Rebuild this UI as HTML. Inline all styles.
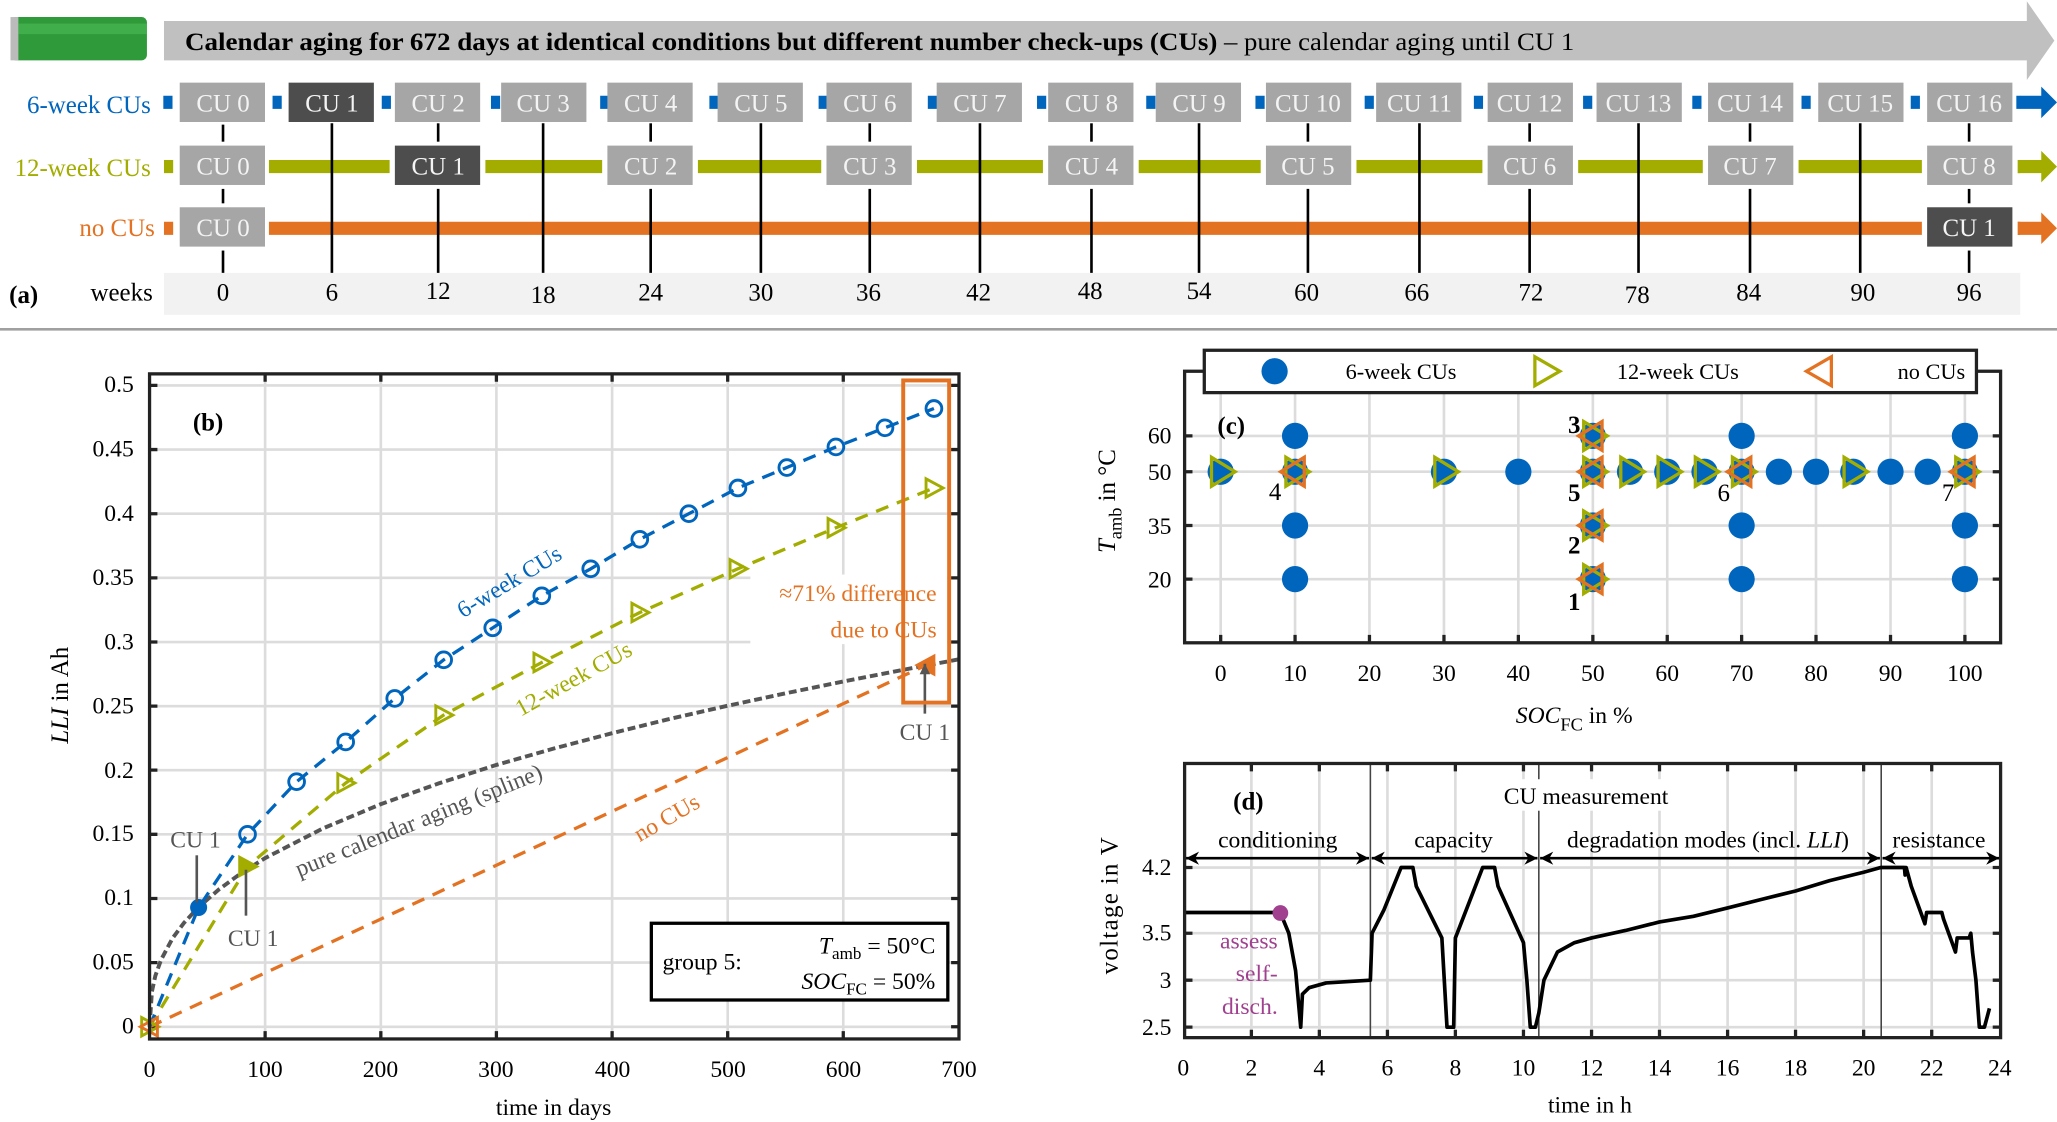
<!DOCTYPE html>
<html><head><meta charset="utf-8"><style>
html,body{margin:0;padding:0;background:#fff}
svg{display:block}
text{font-family:"Liberation Serif","DejaVu Serif",serif}
</style></head><body>
<svg width="2057" height="1122" viewBox="0 0 1568 855.3" preserveAspectRatio="none" xmlns="http://www.w3.org/2000/svg">
<defs>
<marker id="ah" viewBox="0 0 10 10" refX="10" refY="5" markerWidth="12" markerHeight="10" markerUnits="userSpaceOnUse" orient="auto-start-reverse"><path d="M0,0 L10,5 L0,10 L3,5 z" fill="#000"/></marker>
<marker id="ag" viewBox="0 0 10 10" refX="10" refY="5" markerWidth="8" markerHeight="8" markerUnits="userSpaceOnUse" orient="auto"><path d="M0,0 L10,5 L0,10 z" fill="#555"/></marker>
</defs>
<!-- ===== (a) ===== -->
<rect x="8" y="13" width="104" height="33" rx="4" fill="#2f9a3a"/>
<rect x="8" y="13" width="6" height="33" fill="#bbb"/>
<rect x="14" y="18" width="98" height="8" fill="#48b654" opacity="0.7"/>
<polygon points="125,16 1545,16 1545,1 1566,31 1545,61 1545,46 125,46" fill="#c0c0c0"/>
<text x="141" y="38" font-size="19" font-weight="bold" textLength="787" lengthAdjust="spacingAndGlyphs">Calendar aging for 672 days at identical conditions but different number check-ups (CUs)</text>
<text x="933" y="38" font-size="19" textLength="267" lengthAdjust="spacingAndGlyphs">– pure calendar aging until CU 1</text>
<rect x="125" y="208" width="1415" height="32" fill="#f2f2f2"/>
<line x1="0" y1="251" x2="1568" y2="251" stroke="#a0a0a0" stroke-width="2"/>
<!-- blue row -->
<line x1="124.5" y1="78" x2="1540" y2="78" stroke="#0065bd" stroke-width="10" stroke-dasharray="7,76.25"/>
<polygon points="1537,73 1556,73 1556,66 1568,78 1556,90 1556,83 1537,83" fill="#0065bd"/>
<!-- green row -->
<line x1="125" y1="127" x2="1540" y2="127" stroke="#a2ad00" stroke-width="10"/>
<polygon points="1537,122 1556,122 1556,115 1568,127 1556,139 1556,132 1537,132" fill="#a2ad00"/>
<g fill="#fff">
<rect x="132" y="110" width="73" height="34"/>
<rect x="297" y="110" width="73" height="34"/><rect x="459" y="110" width="73" height="34"/>
<rect x="626" y="110" width="73" height="34"/><rect x="795" y="110" width="73" height="34"/>
<rect x="961" y="110" width="73" height="34"/><rect x="1130" y="110" width="73" height="34"/>
<rect x="1298" y="110" width="73" height="34"/><rect x="1465" y="110" width="73" height="34"/>
</g>
<!-- orange row -->
<line x1="125" y1="174" x2="1540" y2="174" stroke="#e37222" stroke-width="10"/>
<polygon points="1537,169 1556,169 1556,162 1568,174 1556,186 1556,179 1537,179" fill="#e37222"/>
<rect x="132" y="157" width="73" height="34" fill="#fff"/>
<rect x="1465" y="157" width="73" height="34" fill="#fff"/>
<!-- vertical lines -->
<g stroke="#000" stroke-width="2">
<line x1="170" y1="95" x2="170" y2="108"/><line x1="170" y1="144" x2="170" y2="155"/><line x1="170" y1="191" x2="170" y2="208"/>
<line x1="253" y1="94" x2="253" y2="208"/>
<line x1="334" y1="94" x2="334" y2="108"/><line x1="334" y1="144" x2="334" y2="208"/>
<line x1="414" y1="94" x2="414" y2="208"/>
<line x1="496" y1="94" x2="496" y2="108"/><line x1="496" y1="144" x2="496" y2="208"/>
<line x1="580" y1="94" x2="580" y2="208"/>
<line x1="663" y1="94" x2="663" y2="108"/><line x1="663" y1="144" x2="663" y2="208"/>
<line x1="747" y1="94" x2="747" y2="208"/>
<line x1="832" y1="94" x2="832" y2="108"/><line x1="832" y1="144" x2="832" y2="208"/>
<line x1="914" y1="94" x2="914" y2="208"/>
<line x1="997" y1="94" x2="997" y2="108"/><line x1="997" y1="144" x2="997" y2="208"/>
<line x1="1082" y1="94" x2="1082" y2="208"/>
<line x1="1166" y1="94" x2="1166" y2="108"/><line x1="1166" y1="144" x2="1166" y2="208"/>
<line x1="1249" y1="94" x2="1249" y2="208"/>
<line x1="1334" y1="94" x2="1334" y2="108"/><line x1="1334" y1="144" x2="1334" y2="208"/>
<line x1="1418" y1="94" x2="1418" y2="208"/>
<line x1="1501" y1="94" x2="1501" y2="108"/><line x1="1501" y1="144" x2="1501" y2="155"/><line x1="1501" y1="191" x2="1501" y2="208"/>
</g>
<!-- boxes -->
<g font-size="19" fill="#f4f4f4" text-anchor="middle">
<rect x="137" y="63" width="65" height="30" fill="#a6a6a6"/><text x="170" y="85">CU 0</text>
<rect x="220" y="63" width="65" height="30" fill="#4d4d4d"/><text x="253" y="85">CU 1</text>
<rect x="301" y="63" width="65" height="30" fill="#a6a6a6"/><text x="334" y="85">CU 2</text>
<rect x="382" y="63" width="65" height="30" fill="#a6a6a6"/><text x="414" y="85">CU 3</text>
<rect x="463" y="63" width="65" height="30" fill="#a6a6a6"/><text x="496" y="85">CU 4</text>
<rect x="547" y="63" width="65" height="30" fill="#a6a6a6"/><text x="580" y="85">CU 5</text>
<rect x="630" y="63" width="65" height="30" fill="#a6a6a6"/><text x="663" y="85">CU 6</text>
<rect x="714" y="63" width="65" height="30" fill="#a6a6a6"/><text x="747" y="85">CU 7</text>
<rect x="799" y="63" width="65" height="30" fill="#a6a6a6"/><text x="832" y="85">CU 8</text>
<rect x="881" y="63" width="65" height="30" fill="#a6a6a6"/><text x="914" y="85">CU 9</text>
<rect x="965" y="63" width="65" height="30" fill="#a6a6a6"/><text x="997" y="85">CU 10</text>
<rect x="1049" y="63" width="65" height="30" fill="#a6a6a6"/><text x="1082" y="85">CU 11</text>
<rect x="1134" y="63" width="65" height="30" fill="#a6a6a6"/><text x="1166" y="85">CU 12</text>
<rect x="1217" y="63" width="65" height="30" fill="#a6a6a6"/><text x="1249" y="85">CU 13</text>
<rect x="1302" y="63" width="65" height="30" fill="#a6a6a6"/><text x="1334" y="85">CU 14</text>
<rect x="1386" y="63" width="65" height="30" fill="#a6a6a6"/><text x="1418" y="85">CU 15</text>
<rect x="1469" y="63" width="65" height="30" fill="#a6a6a6"/><text x="1501" y="85">CU 16</text>
<rect x="137" y="111" width="65" height="30" fill="#a6a6a6"/><text x="170" y="133">CU 0</text>
<rect x="301" y="111" width="65" height="30" fill="#4d4d4d"/><text x="334" y="133">CU 1</text>
<rect x="463" y="111" width="65" height="30" fill="#a6a6a6"/><text x="496" y="133">CU 2</text>
<rect x="630" y="111" width="65" height="30" fill="#a6a6a6"/><text x="663" y="133">CU 3</text>
<rect x="799" y="111" width="65" height="30" fill="#a6a6a6"/><text x="832" y="133">CU 4</text>
<rect x="965" y="111" width="65" height="30" fill="#a6a6a6"/><text x="997" y="133">CU 5</text>
<rect x="1134" y="111" width="65" height="30" fill="#a6a6a6"/><text x="1166" y="133">CU 6</text>
<rect x="1302" y="111" width="65" height="30" fill="#a6a6a6"/><text x="1334" y="133">CU 7</text>
<rect x="1469" y="111" width="65" height="30" fill="#a6a6a6"/><text x="1501" y="133">CU 8</text>
<rect x="137" y="158" width="65" height="30" fill="#a6a6a6"/><text x="170" y="180">CU 0</text>
<rect x="1469" y="158" width="65" height="30" fill="#4d4d4d"/><text x="1501" y="180">CU 1</text>
</g>
<g font-size="19" text-anchor="end">
<text x="115" y="86" fill="#0065bd">6-week CUs</text>
<text x="115" y="134" fill="#a2ad00">12-week CUs</text>
<text x="118" y="180" fill="#e37222">no CUs</text>
</g>
<text x="7" y="231" font-size="19" font-weight="bold">(a)</text>
<text x="69" y="229" font-size="19">weeks</text>
<g font-size="19" text-anchor="middle">
<text x="170" y="229">0</text><text x="253" y="229">6</text><text x="334" y="228">12</text><text x="414" y="231">18</text>
<text x="496" y="229">24</text><text x="580" y="229">30</text><text x="662" y="229">36</text><text x="746" y="229">42</text>
<text x="831" y="228">48</text><text x="914" y="228">54</text><text x="996" y="229">60</text><text x="1080" y="229">66</text>
<text x="1167" y="229">72</text><text x="1248" y="231">78</text><text x="1333" y="229">84</text><text x="1420" y="229">90</text><text x="1501" y="229">96</text>
</g>
<!-- ===== (b) ===== -->
<g stroke="#dcdcdc" stroke-width="2">
<line x1="202.1" y1="285" x2="202.1" y2="792"/><line x1="290.3" y1="285" x2="290.3" y2="792"/><line x1="378.4" y1="285" x2="378.4" y2="792"/>
<line x1="466.6" y1="285" x2="466.6" y2="792"/><line x1="554.7" y1="285" x2="554.7" y2="792"/><line x1="642.8" y1="285" x2="642.8" y2="792"/>
<line x1="114" y1="733.8" x2="731" y2="733.8"/><line x1="114" y1="684.9" x2="731" y2="684.9"/><line x1="114" y1="636" x2="731" y2="636"/>
<line x1="114" y1="587.1" x2="731" y2="587.1"/><line x1="114" y1="538.3" x2="731" y2="538.3"/><line x1="114" y1="489.4" x2="731" y2="489.4"/>
<line x1="114" y1="440.5" x2="731" y2="440.5"/><line x1="114" y1="391.6" x2="731" y2="391.6"/><line x1="114" y1="342.7" x2="731" y2="342.7"/>
<line x1="114" y1="293.8" x2="731" y2="293.8"/><line x1="114" y1="782.7" x2="731" y2="782.7"/>
</g>
<g stroke="#222" stroke-width="2.5">
<path d="M202.1,285v6M290.3,285v6M378.4,285v6M466.6,285v6M554.7,285v6M642.8,285v6M202.1,792v-6M290.3,792v-6M378.4,792v-6M466.6,792v-6M554.7,792v-6M642.8,792v-6"/>
<path d="M114,782.7h6M114,733.8h6M114,684.9h6M114,636h6M114,587.1h6M114,538.3h6M114,489.4h6M114,440.5h6M114,391.6h6M114,342.7h6M114,293.8h6M731,782.7h-6M731,733.8h-6M731,684.9h-6M731,636h-6M731,587.1h-6M731,538.3h-6M731,489.4h-6M731,440.5h-6M731,391.6h-6M731,342.7h-6M731,293.8h-6"/>
</g>
<g font-size="18" text-anchor="end">
<text x="102" y="299">0.5</text><text x="102" y="348">0.45</text><text x="102" y="397">0.4</text><text x="102" y="446">0.35</text>
<text x="102" y="495">0.3</text><text x="102" y="544">0.25</text><text x="102" y="593">0.2</text><text x="102" y="641">0.15</text>
<text x="102" y="690">0.1</text><text x="102" y="739">0.05</text><text x="102" y="788">0</text>
</g>
<g font-size="18" text-anchor="middle">
<text x="114" y="821">0</text><text x="202" y="821">100</text><text x="290" y="821">200</text><text x="378" y="821">300</text>
<text x="467" y="821">400</text><text x="555" y="821">500</text><text x="643" y="821">600</text><text x="731" y="821">700</text>
<text x="422" y="850">time in days</text>
</g>
<text transform="translate(52,530) rotate(-90)" font-size="19" text-anchor="middle"><tspan font-style="italic">LLI</tspan> in Ah</text>
<text x="147" y="328" font-size="19" font-weight="bold">(b)</text>
<rect x="572" y="438" width="150" height="53" fill="#fff"/>
<polyline fill="none" stroke="#555" stroke-width="3" stroke-dasharray="6,3" points="114,782.7 115.8,755.8 118.4,743.9 122.8,731.6 131.6,715.1 140.4,703.3 151.4,691.5 166.9,678 184.5,665.1 202.1,654.1 246.2,631.5 290.3,613 334.4,597.2 378.4,583.1 422.5,570.5 466.6,558.9 510.6,548 554.7,538 598.8,528.5 642.8,519.5 686.9,510.9 731,502.6"/>
<line x1="114" y1="782.7" x2="706" y2="507" stroke="#e37222" stroke-width="2.5" stroke-dasharray="10,7"/>
<polyline fill="none" stroke="#a2ad00" stroke-width="2.5" stroke-dasharray="10,7" points="114,782.7 188.7,660.5 263.5,596.9 338.2,545.1 413,505 487.7,466.9 562.5,433.6 637.2,402.3 711.9,372"/>
<polyline fill="none" stroke="#0065bd" stroke-width="2.5" stroke-dasharray="10,7" points="114,782.7 151.4,691.8 188.7,636 226.1,595.9 263.5,565.6 300.9,532.4 338.2,503 375.6,478.6 413,454.2 450.3,433.6 487.7,411.1 525.1,391.6 562.5,372 599.8,356.4 637.2,340.7 674.6,326.1 711.9,311.4"/>
<g fill="none" stroke="#0065bd" stroke-width="2.2">
<circle cx="188.7" cy="636" r="6"/><circle cx="226.1" cy="595.9" r="6"/><circle cx="263.5" cy="565.6" r="6"/><circle cx="300.9" cy="532.4" r="6"/>
<circle cx="338.2" cy="503" r="6"/><circle cx="375.6" cy="478.6" r="6"/><circle cx="413" cy="454.2" r="6"/><circle cx="450.3" cy="433.6" r="6"/>
<circle cx="487.7" cy="411.1" r="6"/><circle cx="525.1" cy="391.6" r="6"/><circle cx="562.5" cy="372" r="6"/><circle cx="599.8" cy="356.4" r="6"/>
<circle cx="637.2" cy="340.7" r="6"/><circle cx="674.6" cy="326.1" r="6"/><circle cx="711.9" cy="311.4" r="6"/>
</g>
<circle cx="151.4" cy="691.8" r="6.5" fill="#0065bd"/>
<g fill="none" stroke="#a2ad00" stroke-width="2.2">
<path d="M182.7,653.5l13,7l-13,7z" fill="#a2ad00"/>
<path d="M257.5,589.9l13,7l-13,7z"/><path d="M332.2,538.1l13,7l-13,7z"/><path d="M407,498l13,7l-13,7z"/>
<path d="M481.7,459.9l13,7l-13,7z"/><path d="M556.5,426.6l13,7l-13,7z"/><path d="M631.2,395.3l13,7l-13,7z"/><path d="M705.9,365l13,7l-13,7z"/>
<path d="M108,775.7l13,7l-13,7z"/>
</g>
<path d="M712,500l-13,7l13,7z" fill="#e37222" stroke="#e37222" stroke-width="2"/>
<path d="M120,775.7l-13,7l13,7z" fill="none" stroke="#e37222" stroke-width="2.2"/>
<text transform="translate(388,443) rotate(-31)" font-size="18" fill="#0065bd" text-anchor="middle" dy="0.35em">6-week CUs</text>
<text transform="translate(437,517) rotate(-29)" font-size="18" fill="#a2ad00" text-anchor="middle" dy="0.35em">12-week CUs</text>
<text transform="translate(319,625) rotate(-22)" font-size="18" fill="#555" text-anchor="middle" dy="0.35em">pure calendar aging (spline)</text>
<text transform="translate(508,623) rotate(-30)" font-size="18" fill="#e37222" text-anchor="middle" dy="0.35em">no CUs</text>
<g font-size="18" fill="#555" text-anchor="middle">
<text x="149" y="646">CU 1</text><text x="193" y="721">CU 1</text><text x="705" y="564">CU 1</text>
</g>
<g stroke="#555" stroke-width="2">
<line x1="150" y1="652" x2="150" y2="688"/><line x1="187.5" y1="698" x2="187.5" y2="663"/>
<line x1="705" y1="544" x2="705" y2="506" marker-end="url(#ag)"/>
</g>
<rect x="688.5" y="290" width="35" height="245.6" fill="none" stroke="#e37222" stroke-width="3"/>
<g font-size="18" fill="#e37222" text-anchor="end">
<text x="714" y="458">≈71% difference</text><text x="714" y="486">due to CUs</text>
</g>
<rect x="496.5" y="703.8" width="226" height="58.5" fill="#fff" stroke="#000" stroke-width="2.5"/>
<text x="505" y="739" font-size="18">group 5:</text>
<text x="713" y="727" font-size="18" text-anchor="end"><tspan font-style="italic">T</tspan><tspan font-size="13" dy="4">amb</tspan><tspan dy="-4"> = 50°C</tspan></text>
<text x="713" y="754" font-size="18" text-anchor="end"><tspan font-style="italic">SOC</tspan><tspan font-size="13" dy="4">FC</tspan><tspan dy="-4"> = 50%</tspan></text>
<rect x="114" y="285" width="617" height="507" fill="none" stroke="#222" stroke-width="2.5"/>
<!-- ===== (c) ===== -->
<g stroke="#dcdcdc" stroke-width="2">
<path d="M930.5,283V490M987.2,283V490M1043.9,283V490M1100.7,283V490M1157.4,283V490M1214.2,283V490M1270.9,283V490M1327.6,283V490M1384.3,283V490M1441.1,283V490M1497.8,283V490"/>
<path d="M903,332.3H1525M903,359.6H1525M903,400.6H1525M903,441.5H1525"/>
</g>
<g stroke="#222" stroke-width="2.5">
<path d="M930.5,490v-6M987.2,490v-6M1043.9,490v-6M1100.7,490v-6M1157.4,490v-6M1214.2,490v-6M1270.9,490v-6M1327.6,490v-6M1384.3,490v-6M1441.1,490v-6M1497.8,490v-6"/>
<path d="M903,332.3h6M903,359.6h6M903,400.6h6M903,441.5h6M1525,332.3h-6M1525,359.6h-6M1525,400.6h-6M1525,441.5h-6"/>
</g>
<rect x="903" y="283" width="622" height="207" fill="none" stroke="#222" stroke-width="2.5"/>
<g font-size="18" text-anchor="end">
<text x="893" y="338">60</text><text x="893" y="366">50</text><text x="893" y="407">35</text><text x="893" y="448">20</text>
</g>
<g font-size="18" text-anchor="middle">
<text x="930.5" y="519">0</text><text x="987.2" y="519">10</text><text x="1043.9" y="519">20</text><text x="1100.7" y="519">30</text>
<text x="1157.4" y="519">40</text><text x="1214.2" y="519">50</text><text x="1270.9" y="519">60</text><text x="1327.6" y="519">70</text>
<text x="1384.3" y="519">80</text><text x="1441.1" y="519">90</text><text x="1497.8" y="519">100</text>
<text x="1200" y="551"><tspan font-style="italic">SOC</tspan><tspan font-size="14" dy="6">FC</tspan><tspan dy="-6"> in %</tspan></text>
</g>
<text transform="translate(850,382) rotate(-90)" font-size="19" text-anchor="middle"><tspan font-style="italic">T</tspan><tspan font-size="14" dy="5">amb</tspan><tspan dy="-5"> in °C</tspan></text>
<text x="928" y="331" font-size="19" font-weight="bold">(c)</text>
<g fill="#0065bd">
<circle cx="987.2" cy="332.3" r="10"/><circle cx="1327.6" cy="332.3" r="10"/><circle cx="1497.8" cy="332.3" r="10"/>
<circle cx="987.2" cy="400.6" r="10"/><circle cx="1327.6" cy="400.6" r="10"/><circle cx="1497.8" cy="400.6" r="10"/>
<circle cx="987.2" cy="441.5" r="10"/><circle cx="1327.6" cy="441.5" r="10"/><circle cx="1497.8" cy="441.5" r="10"/>
<circle cx="1214.2" cy="332.3" r="10"/><circle cx="1214.2" cy="400.6" r="10"/><circle cx="1214.2" cy="441.5" r="10"/>
<circle cx="930.5" cy="359.6" r="10"/><circle cx="987.2" cy="359.6" r="10"/><circle cx="1100.7" cy="359.6" r="10"/><circle cx="1157.4" cy="359.6" r="10"/>
<circle cx="1214.2" cy="359.6" r="10"/><circle cx="1242.5" cy="359.6" r="10"/><circle cx="1270.9" cy="359.6" r="10"/><circle cx="1299.3" cy="359.6" r="10"/>
<circle cx="1327.6" cy="359.6" r="10"/><circle cx="1356" cy="359.6" r="10"/><circle cx="1384.3" cy="359.6" r="10"/><circle cx="1412.7" cy="359.6" r="10"/>
<circle cx="1441.1" cy="359.6" r="10"/><circle cx="1469.4" cy="359.6" r="10"/><circle cx="1497.8" cy="359.6" r="10"/>
</g>
<g fill="none" stroke="#a2ad00" stroke-width="2.5">
<path d="M923.5,348.6l18,11l-18,11z"/><path d="M980.2,348.6l18,11l-18,11z"/><path d="M1093.7,348.6l18,11l-18,11z"/>
<path d="M1207.2,348.6l18,11l-18,11z"/><path d="M1235.5,348.6l18,11l-18,11z"/><path d="M1263.9,348.6l18,11l-18,11z"/>
<path d="M1292.3,348.6l18,11l-18,11z"/><path d="M1320.6,348.6l18,11l-18,11z"/><path d="M1405.7,348.6l18,11l-18,11z"/>
<path d="M1490.8,348.6l18,11l-18,11z"/>
<path d="M1207.2,321.3l18,11l-18,11z"/><path d="M1207.2,389.6l18,11l-18,11z"/><path d="M1207.2,430.5l18,11l-18,11z"/>
</g>
<g fill="none" stroke="#e37222" stroke-width="2.5">
<path d="M994.2,348.6l-18,11l18,11z"/><path d="M1221.2,348.6l-18,11l18,11z"/><path d="M1334.6,348.6l-18,11l18,11z"/>
<path d="M1504.8,348.6l-18,11l18,11z"/>
<path d="M1221.2,321.3l-18,11l18,11z"/><path d="M1221.2,389.6l-18,11l18,11z"/><path d="M1221.2,430.5l-18,11l18,11z"/>
</g>
<g font-size="19" text-anchor="middle">
<text x="1200" y="330" font-weight="bold">3</text><text x="1200" y="382" font-weight="bold">5</text>
<text x="1200" y="422" font-weight="bold">2</text><text x="1200" y="465" font-weight="bold">1</text>
<text x="972" y="381">4</text><text x="1314" y="382">6</text><text x="1485" y="382">7</text>
</g>
<rect x="918" y="267" width="588.6" height="32.3" fill="#fff" stroke="#222" stroke-width="2.5"/>
<circle cx="971.6" cy="283" r="10" fill="#0065bd"/>
<path d="M1170,272l19,11l-19,11z" fill="none" stroke="#a2ad00" stroke-width="2.5"/>
<path d="M1396,272l-19,11l19,11z" fill="none" stroke="#e37222" stroke-width="2.5"/>
<g font-size="17">
<text x="1068" y="289" text-anchor="middle">6-week CUs</text>
<text x="1279" y="289" text-anchor="middle">12-week CUs</text>
<text x="1498" y="289" text-anchor="end">no CUs</text>
</g>
<!-- ===== (d) ===== -->
<g stroke="#dcdcdc" stroke-width="2">
<path d="M953.9,582V791M1005.7,582V791M1057.6,582V791M1109.4,582V791M1161.3,582V791M1213.2,582V791M1265,582V791M1316.9,582V791M1368.7,582V791M1420.6,582V791M1472.5,582V791"/>
<path d="M903,661.3H1525M903,711.4H1525M903,747.2H1525M903,783H1525"/>
</g>
<g stroke="#222" stroke-width="2.5">
<path d="M953.9,582v6M1005.7,582v6M1057.6,582v6M1109.4,582v6M1161.3,582v6M1213.2,582v6M1265,582v6M1316.9,582v6M1368.7,582v6M1420.6,582v6M1472.5,582v6"/>
<path d="M953.9,791v-6M1005.7,791v-6M1057.6,791v-6M1109.4,791v-6M1161.3,791v-6M1213.2,791v-6M1265,791v-6M1316.9,791v-6M1368.7,791v-6M1420.6,791v-6M1472.5,791v-6"/>
<path d="M903,661.3h6M903,711.4h6M903,747.2h6M903,783h6M1525,661.3h-6M1525,711.4h-6M1525,747.2h-6M1525,783h-6"/>
</g>
<g stroke="#444" stroke-width="1.2">
<line x1="1044.6" y1="582" x2="1044.6" y2="791"/><line x1="1173" y1="582" x2="1173" y2="791"/><line x1="1434" y1="582" x2="1434" y2="791"/>
</g>
<rect x="1125" y="594" width="170" height="24" fill="#fff"/>
<g stroke="#000" stroke-width="2">
<line x1="904" y1="654.2" x2="1043.6" y2="654.2" marker-start="url(#ah)" marker-end="url(#ah)"/>
<line x1="1045.6" y1="654.2" x2="1172" y2="654.2" marker-start="url(#ah)" marker-end="url(#ah)"/>
<line x1="1174" y1="654.2" x2="1433" y2="654.2" marker-start="url(#ah)" marker-end="url(#ah)"/>
<line x1="1435" y1="654.2" x2="1524" y2="654.2" marker-start="url(#ah)" marker-end="url(#ah)"/>
</g>
<polyline fill="none" stroke="#000" stroke-width="2.8" stroke-linejoin="round" points="902,695.6 975.9,695.6 982.4,711.4 987.6,740 991.5,783 992.8,757.9 997.9,752.9 1010.9,749.3 1044.6,747.2 1045.9,711.4 1055,693.5 1068,661.3 1077,661.3 1079.6,675.6 1099.1,715 1103,783 1108.1,783 1109.4,715 1130.2,661.3 1139.3,661.3 1141.9,675.6 1161.3,718.6 1163.9,747.2 1166.5,783 1170.4,783 1173,772.3 1176.9,747.2 1187.2,725.7 1200.2,718.6 1213.2,715 1239.1,709.3 1265,702.8 1290.9,698.5 1316.9,692.1 1342.8,685.6 1368.7,679.2 1394.7,671.3 1420.6,664.9 1433.6,661.3 1451.7,661.3 1452.2,667 1453,661.3 1456.9,675.6 1467.3,704.2 1468.6,695.6 1480.2,695.6 1481.5,700.6 1490.6,725.7 1491.9,715 1501,715 1502.3,711.4 1503.6,725.7 1506.2,747.2 1508.8,783 1512.7,783 1516.5,768.7"/>
<circle cx="976" cy="696" r="6" fill="#a0408f"/>
<g font-size="18" fill="#a0408f" text-anchor="end">
<text x="974" y="723">assess</text><text x="974" y="748">self-</text><text x="974" y="773">disch.</text>
</g>
<rect x="903" y="582" width="622" height="209" fill="none" stroke="#222" stroke-width="2.5"/>
<g font-size="18" text-anchor="middle">
<text x="974" y="646">conditioning</text><text x="1108" y="646">capacity</text>
<text x="1302" y="646">degradation modes (incl. <tspan font-style="italic">LLI</tspan>)</text><text x="1478" y="646">resistance</text>
<text x="1209" y="613">CU measurement</text>
<text x="902" y="820">0</text><text x="953.9" y="820">2</text><text x="1005.7" y="820">4</text><text x="1057.6" y="820">6</text>
<text x="1109.4" y="820">8</text><text x="1161.3" y="820">10</text><text x="1213.2" y="820">12</text><text x="1265" y="820">14</text>
<text x="1316.9" y="820">16</text><text x="1368.7" y="820">18</text><text x="1420.6" y="820">20</text><text x="1472.5" y="820">22</text><text x="1524.4" y="820">24</text>
<text x="1212" y="848">time in h</text>
</g>
<g font-size="18" text-anchor="end">
<text x="893" y="667">4.2</text><text x="893" y="717">3.5</text><text x="893" y="753">3</text><text x="893" y="789">2.5</text>
</g>
<text x="940" y="617" font-size="19" font-weight="bold">(d)</text>
<text transform="translate(852,690) rotate(-90)" font-size="19" text-anchor="middle" letter-spacing="1">voltage in V</text>
</svg>
</body></html>
